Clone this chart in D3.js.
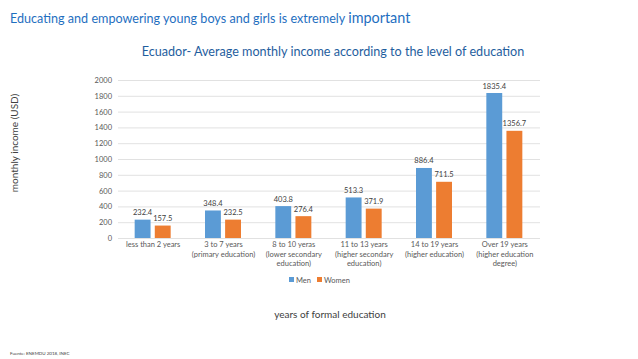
<!DOCTYPE html>
<html>
<head>
<meta charset="utf-8">
<script src="https://cdn.jsdelivr.net/npm/d3@7"></script>
<style>
  body { margin: 0; background: #fff; }
  text { font-family: Lato, "Open Sans", sans-serif; }
</style>
</head>
<body>
<svg width="638" height="359"></svg>
<script>
var categories = [
  ["less than 2 years"],
  ["3 to 7 years", "(primary education)"],
  ["8 to 10 yeras", "(lower secondary", "education)"],
  ["11 to 13 years", "(higher secondary", "education)"],
  ["14 to 19 years", "(higher education)"],
  ["Over 19 years", "(higher education", "degree)"]
];
var men = [232.4, 348.4, 403.8, 513.3, 886.4, 1835.4];
var women = [157.5, 232.5, 276.4, 371.9, 711.5, 1356.7];
var seriesNames = ["Men", "Women"];
var colors = ["#5B9BD5", "#ED7D31"];
var yTicks = [0, 200, 400, 600, 800, 1000, 1200, 1400, 1600, 1800, 2000];

var svg = d3.select("svg");

var x = d3.scaleBand()
    .domain(d3.range(categories.length))
    .range([118, 540]);
var sub = d3.scaleBand()
    .domain([0, 1])
    .range([x.bandwidth() / 2 - 18.5, x.bandwidth() / 2 + 17.5])
    .paddingInner(0.21);
var y = d3.scaleLinear().domain([0, 2000]).range([238, 80]);

// titles
var t = svg.append("text").attr("x", 10).attr("y", 23)
    .style("fill", "#1F6FBF").style("font-size", "12.6px");
t.append("tspan").text("Educating and empowering young boys and girls is extremely ");
t.append("tspan").style("font-size", "14.4px").text("important");

svg.append("text").attr("x", 333).attr("y", 56).attr("text-anchor", "middle")
    .style("fill", "#1F5E9E").style("font-size", "12.6px")
    .text("Ecuador- Average monthly income according to the level of education");

// grid + y labels
var yAxis = d3.axisLeft(y).tickValues(yTicks).tickFormat(d3.format("d"))
    .tickSize(-(540 - 118)).tickPadding(6);
var gy = svg.append("g").attr("transform", "translate(118,0)").call(yAxis);
gy.select(".domain").remove();
gy.selectAll(".tick line").attr("stroke", "#d9d9d9").attr("stroke-width", 0.8);
gy.selectAll(".tick text").attr("fill", "#595959").style("font-size", "7.5px")
    .style("font-family", "Lato, sans-serif");

// bars
var series = [men, women];
series.forEach(function(vals, s) {
  var g = svg.append("g");
  g.selectAll("rect").data(vals).enter().append("rect")
      .attr("x", function(d, i) { return x(i) + sub(s); })
      .attr("y", function(d) { return y(d); })
      .attr("width", sub.bandwidth())
      .attr("height", function(d) { return y(0) - y(d); })
      .attr("fill", colors[s]);
  g.selectAll("text").data(vals).enter().append("text")
      .attr("x", function(d, i) { return x(i) + sub(s) + sub.bandwidth() / 2; })
      .attr("y", function(d) { return y(d) - 4.5; })
      .attr("text-anchor", "middle")
      .style("font-size", "7.5px").style("fill", "#404040")
      .text(function(d) { return d.toFixed(1); });
});

// category labels
var cat = svg.append("g").selectAll("text").data(categories).enter().append("text")
    .attr("x", function(d, i) { return x(i) + x.bandwidth() / 2; })
    .attr("y", 247)
    .attr("text-anchor", "middle")
    .style("font-size", "7.5px").style("fill", "#595959");
cat.selectAll("tspan").data(function(d) { return d; }).enter().append("tspan")
    .attr("x", function() { return this.parentNode.getAttribute("x"); })
    .attr("dy", function(d, i) { return i === 0 ? 0 : 9.5; })
    .text(function(d) { return d; });

// legend
var legX = [289, 317];
seriesNames.forEach(function(n, i) {
  svg.append("rect").attr("x", legX[i]).attr("y", 277).attr("width", 5).attr("height", 5)
      .attr("fill", colors[i]);
  svg.append("text").attr("x", legX[i] + 7).attr("y", 282.5)
      .style("font-size", "7.5px").style("fill", "#595959").text(n);
});

// axis titles
svg.append("text").attr("x", 330).attr("y", 318).attr("text-anchor", "middle")
    .style("font-size", "10px").style("fill", "#404040")
    .text("years of formal education");
svg.append("text").attr("transform", "translate(18,143) rotate(-90)")
    .attr("text-anchor", "middle")
    .style("font-size", "10px").style("fill", "#404040")
    .text("monthly  income (USD)");

svg.append("text").attr("x", 10).attr("y", 355)
    .style("font-size", "4.5px").style("fill", "#404040")
    .text("Fuente: ENEMDU 2018, INEC");
</script>
</body>
</html>
